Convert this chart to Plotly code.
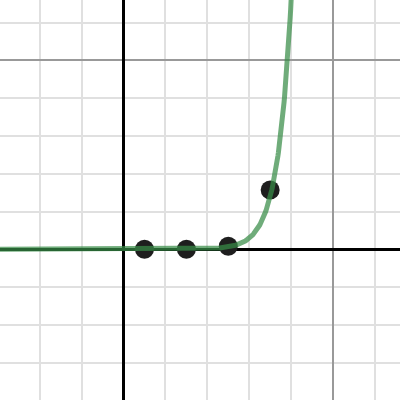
import numpy as np
import plotly.graph_objects as go

# dados
pontos_x = [0.5, 1.5, 2.5, 3.5]
pontos_y = [0.0, 0.0, 0.08, 1.57]

# curva ajustada y = a * e^(b x)
coef_a = 2.7e-5
coef_b = 3.1

curva_x = np.linspace(-3.2, 4.1, 600)
curva_y = coef_a * np.exp(coef_b * curva_x)

fig = go.Figure()

fig.add_trace(go.Scatter(
    x=pontos_x, y=pontos_y, mode="markers",
    marker=dict(size=19, color="#1e1e1e"),
    hoverinfo="skip"
))

fig.add_trace(go.Scatter(
    x=curva_x, y=curva_y, mode="lines",
    line=dict(color="rgba(56,140,70,0.72)", width=5),
    hoverinfo="skip"
))

eixo = dict(
    showticklabels=False, ticks="",
    showgrid=True, dtick=5, tick0=0, gridcolor="#999999", gridwidth=1.5,
    minor=dict(dtick=1, tick0=0, showgrid=True, gridcolor="#e0e0e0", gridwidth=1.5),
    zeroline=True, zerolinecolor="black", zerolinewidth=2.5,
    showline=False, fixedrange=True
)

fig.update_layout(
    width=400, height=400,
    margin=dict(l=0, r=0, t=0, b=0),
    paper_bgcolor="white", plot_bgcolor="white",
    showlegend=False,
    xaxis=dict(eixo, range=[-2.95, 6.6]),
    yaxis=dict(eixo, range=[-3.99, 6.6]),
)

# tirar a margem padrão da página
fig.write_html("out.html", config={"displayModeBar": False},
               post_script="document.body.style.margin='0';")
